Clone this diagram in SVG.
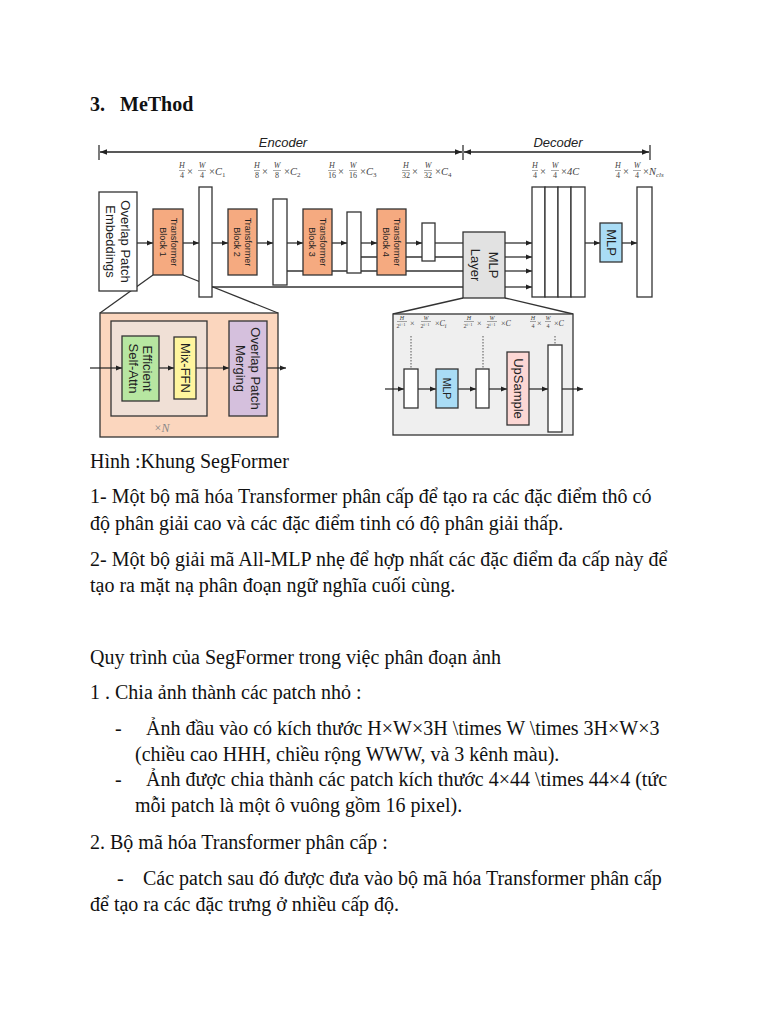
<svg xmlns="http://www.w3.org/2000/svg" width="768" height="1024" viewBox="0 0 768 1024">
<defs>
<marker id="ah" viewBox="0 0 10 10" refX="10" refY="5" markerWidth="6" markerHeight="6" markerUnits="userSpaceOnUse" orient="auto"><path d="M0,1 L10,5 L0,9 z" fill="#222"/></marker>
<marker id="ahs" viewBox="0 0 10 10" refX="10" refY="5" markerWidth="7" markerHeight="7" markerUnits="userSpaceOnUse" orient="auto-start-reverse"><path d="M0,1 L10,5 L0,9 z" fill="#222"/></marker>
</defs>
<style>
.bx{stroke:#333;stroke-width:1.3}
.w{fill:#fff}
.or{fill:#f5aa80}
.ln{stroke:#333;stroke-width:1.3;fill:none}
.la{stroke:#222;stroke-width:1.2;fill:none;marker-end:url(#ah)}
.dot{stroke:#555;stroke-width:1;stroke-dasharray:1.5,1.5}
.s{font-family:"Liberation Sans",Arial,sans-serif;fill:#222;text-anchor:middle}
.t9{font-size:9px}
.t13{font-size:13px}
.fr{font-family:"Liberation Serif",serif;font-style:italic;font-size:8px;fill:#444;text-anchor:middle}
.fn{font-family:"Liberation Serif",serif;font-size:8px;fill:#444;text-anchor:middle}
.fm{font-family:"Liberation Serif",serif;font-size:10.5px;fill:#444}
.fb{stroke:#555;stroke-width:0.5}
.fr2{font-family:"Liberation Serif",serif;font-style:italic;font-size:6px;fill:#444;text-anchor:middle}
.fn2{font-family:"Liberation Serif",serif;font-size:6px;fill:#444;text-anchor:middle}
.fm2{font-family:"Liberation Serif",serif;font-size:8px;fill:#444}
.b{font-family:"Liberation Serif","Times New Roman",serif;font-size:20px;fill:#111}
</style>
<rect width="768" height="1024" fill="#fff"/>

<text class="b" x="90" y="111" font-weight="bold">3.</text>
<text class="b" x="120" y="111" font-weight="bold">MeThod</text>

<!-- encoder / decoder span -->
<g id="span">
<line class="ln" x1="99" y1="145" x2="99" y2="160"/>
<line class="ln" x1="463" y1="145" x2="463" y2="160"/>
<line class="ln" x1="650" y1="145" x2="650" y2="160"/>
<line x1="100" y1="152" x2="462" y2="152" stroke="#222" stroke-width="1.5" marker-start="url(#ahs)" marker-end="url(#ahs)"/>
<line x1="464" y1="152" x2="649" y2="152" stroke="#222" stroke-width="1.5" marker-start="url(#ahs)" marker-end="url(#ahs)"/>
<text class="s" x="283" y="147" font-size="13" font-style="italic">Encoder</text>
<text class="s" x="558" y="147" font-size="13" font-style="italic">Decoder</text>
</g>

<!-- dimension labels -->
<g id="dims">
<text class="fr" x="182" y="168">H</text><line class="fb" x1="179" y1="170.5" x2="185" y2="170.5"/><text class="fn" x="182" y="178">4</text>
<text class="fm" x="187" y="175">×</text>
<text class="fr" x="202" y="168">W</text><line class="fb" x1="198" y1="170.5" x2="206" y2="170.5"/><text class="fn" x="202" y="178">4</text>
<text class="fm" x="209" y="175">×<tspan font-style="italic">C</tspan><tspan font-size="7" dy="2">1</tspan></text>

<text class="fr" x="257" y="168">H</text><line class="fb" x1="254" y1="170.5" x2="260" y2="170.5"/><text class="fn" x="257" y="178">8</text>
<text class="fm" x="262" y="175">×</text>
<text class="fr" x="277" y="168">W</text><line class="fb" x1="273" y1="170.5" x2="281" y2="170.5"/><text class="fn" x="277" y="178">8</text>
<text class="fm" x="284" y="175">×<tspan font-style="italic">C</tspan><tspan font-size="7" dy="2">2</tspan></text>

<text class="fr" x="332" y="168">H</text><line class="fb" x1="328" y1="170.5" x2="336" y2="170.5"/><text class="fn" x="332" y="178">16</text>
<text class="fm" x="338" y="175">×</text>
<text class="fr" x="353" y="168">W</text><line class="fb" x1="349" y1="170.5" x2="357" y2="170.5"/><text class="fn" x="353" y="178">16</text>
<text class="fm" x="360" y="175">×<tspan font-style="italic">C</tspan><tspan font-size="7" dy="2">3</tspan></text>

<text class="fr" x="406" y="168">H</text><line class="fb" x1="402" y1="170.5" x2="410" y2="170.5"/><text class="fn" x="406" y="178">32</text>
<text class="fm" x="412" y="175">×</text>
<text class="fr" x="428" y="168">W</text><line class="fb" x1="424" y1="170.5" x2="432" y2="170.5"/><text class="fn" x="428" y="178">32</text>
<text class="fm" x="435" y="175">×<tspan font-style="italic">C</tspan><tspan font-size="7" dy="2">4</tspan></text>

<text class="fr" x="535" y="168">H</text><line class="fb" x1="532" y1="170.5" x2="538" y2="170.5"/><text class="fn" x="535" y="178">4</text>
<text class="fm" x="540" y="175">×</text>
<text class="fr" x="555" y="168">W</text><line class="fb" x1="551" y1="170.5" x2="559" y2="170.5"/><text class="fn" x="555" y="178">4</text>
<text class="fm" x="561" y="175">×<tspan font-style="italic">4C</tspan></text>

<text class="fr" x="618" y="168">H</text><line class="fb" x1="615" y1="170.5" x2="621" y2="170.5"/><text class="fn" x="618" y="178">4</text>
<text class="fm" x="623" y="175">×</text>
<text class="fr" x="637" y="168">W</text><line class="fb" x1="633" y1="170.5" x2="641" y2="170.5"/><text class="fn" x="637" y="178">4</text>
<text class="fm" x="643" y="175">×<tspan font-style="italic">N</tspan><tspan font-size="7" font-style="italic" dy="2">cls</tspan></text>
</g>

<!-- connectors -->
<g id="connectors">
<line class="ln" x1="153" y1="275" x2="100" y2="313"/>
<line class="ln" x1="183" y1="275" x2="278" y2="313"/>
<line class="ln" x1="463" y1="298" x2="393" y2="314"/>
<line class="ln" x1="505" y1="298" x2="573" y2="314"/>
<line class="ln" x1="212" y1="287" x2="463" y2="287"/>
<line class="ln" x1="287" y1="271" x2="463" y2="271"/>
<line class="ln" x1="361" y1="257" x2="463" y2="257"/>
<line class="ln" x1="435" y1="243" x2="463" y2="243"/>
<line class="la" x1="137" y1="243" x2="153" y2="243"/>
<line class="la" x1="183" y1="243" x2="199" y2="243"/>
<line class="la" x1="212" y1="243" x2="228" y2="243"/>
<line class="la" x1="257" y1="243" x2="273" y2="243"/>
<line class="la" x1="287" y1="243" x2="303" y2="243"/>
<line class="la" x1="332" y1="243" x2="347" y2="243"/>
<line class="la" x1="361" y1="243" x2="377" y2="243"/>
<line class="la" x1="406" y1="243" x2="422" y2="243"/>
<line class="la" x1="505" y1="243" x2="532" y2="243"/>
<line class="la" x1="505" y1="257" x2="532" y2="257"/>
<line class="la" x1="505" y1="271" x2="532" y2="271"/>
<line class="la" x1="505" y1="287" x2="532" y2="287"/>
<line class="la" x1="585" y1="243" x2="600" y2="243"/>
<line class="la" x1="622" y1="243" x2="637" y2="243"/>
</g>

<!-- encoder nodes -->
<g id="patch-embed"><rect class="bx w" x="99" y="192" width="38" height="99"/>
<text class="s t13" transform="translate(118,241.5) rotate(90)"><tspan x="0" y="-3">Overlap Patch</tspan><tspan x="0" y="12">Embeddings</tspan></text></g>
<g id="tb1"><rect class="bx or" x="153" y="209" width="30" height="66"/>
<text class="s t9" transform="translate(168,242) rotate(90)"><tspan x="0" y="-2.5">Transformer</tspan><tspan x="0" y="8.5">Block 1</tspan></text></g>
<g id="f1"><rect class="bx w" x="199" y="187" width="13" height="110"/></g>
<g id="tb2"><rect class="bx or" x="228" y="209" width="29" height="66"/>
<text class="s t9" transform="translate(242.5,242) rotate(90)"><tspan x="0" y="-2.5">Transformer</tspan><tspan x="0" y="8.5">Block 2</tspan></text></g>
<g id="f2"><rect class="bx w" x="273" y="199" width="14" height="86"/></g>
<g id="tb3"><rect class="bx or" x="303" y="209" width="29" height="66"/>
<text class="s t9" transform="translate(317.5,242) rotate(90)"><tspan x="0" y="-2.5">Transformer</tspan><tspan x="0" y="8.5">Block 3</tspan></text></g>
<g id="f3"><rect class="bx w" x="347" y="212" width="14" height="61"/></g>
<g id="tb4"><rect class="bx or" x="377" y="209" width="29" height="66"/>
<text class="s t9" transform="translate(391.5,242) rotate(90)"><tspan x="0" y="-2.5">Transformer</tspan><tspan x="0" y="8.5">Block 4</tspan></text></g>
<g id="f4"><rect class="bx w" x="422" y="223" width="13" height="38"/></g>
<g id="mlp-layer"><rect class="bx" fill="#e2e2e2" x="463" y="232" width="42" height="66"/>
<text class="s t13" transform="translate(484,265) rotate(90)"><tspan x="0" y="-4.5">MLP</tspan><tspan x="0" y="13.5">Layer</tspan></text></g>

<!-- decoder nodes -->
<g id="concat">
<rect class="bx w" x="532" y="187" width="13" height="110"/>
<rect class="bx w" x="545" y="187" width="13" height="110"/>
<rect class="bx w" x="558" y="187" width="13" height="110"/>
<rect class="bx w" x="571" y="187" width="14" height="110"/>
</g>
<g id="mlp-dec"><rect class="bx" fill="#a9dcf5" x="600" y="223" width="22" height="39"/>
<text class="s t13" transform="translate(611,242.5) rotate(90)" y="4.5">MLP</text></g>
<g id="out"><rect class="bx w" x="637" y="187" width="15" height="110"/></g>

<!-- transformer block detail -->
<g id="tb-detail">
<rect class="bx" fill="#fbd6be" x="100" y="313" width="178" height="124"/>
<rect class="bx" fill="#f0e0d6" x="111" y="321" width="96" height="95"/>
<text x="162" y="432" font-family="Liberation Serif,serif" font-size="12" fill="#888" text-anchor="middle">×<tspan font-style="italic">N</tspan></text>
<line class="la" x1="90" y1="368" x2="122" y2="368"/>
<line class="la" x1="159" y1="368" x2="174" y2="368"/>
<line class="la" x1="196" y1="368" x2="229" y2="368"/>
<line class="la" x1="267" y1="368" x2="286" y2="368"/>
</g>
<g id="esa"><rect class="bx" fill="#b7e6a1" x="122" y="336" width="37" height="65"/>
<text class="s t13" transform="translate(140.5,368.5) rotate(90)"><tspan x="0" y="-2.5">Efficient</tspan><tspan x="0" y="11.5">Self-Attn</tspan></text></g>
<g id="mixffn"><rect class="bx" fill="#fff59e" x="174" y="337" width="22" height="62"/>
<text class="s t13" transform="translate(185,368) rotate(90)" y="4.5">Mix-FFN</text></g>
<g id="opm"><rect class="bx" fill="#d5c0dd" x="229" y="321" width="38" height="95"/>
<text class="s t13" transform="translate(248,368.5) rotate(90)"><tspan x="0" y="-3">Overlap Patch</tspan><tspan x="0" y="12">Merging</tspan></text></g>

<!-- mlp layer detail -->
<g id="mlp-detail">
<rect class="bx" fill="#efefef" x="393" y="314" width="180" height="121"/>
<text class="fr2" x="402" y="319.5">H</text><line class="fb" x1="397" y1="321.5" x2="407" y2="321.5"/><text class="fn2" x="401" y="328">2<tspan font-size="4.5" dy="-2">i+1</tspan></text>
<text class="fm2" x="410" y="326">×</text>
<text class="fr2" x="426" y="319.5">W</text><line class="fb" x1="421" y1="321.5" x2="431" y2="321.5"/><text class="fn2" x="425" y="328">2<tspan font-size="4.5" dy="-2">i+1</tspan></text>
<text class="fm2" x="435" y="326">×<tspan font-style="italic">C</tspan><tspan font-size="6" font-style="italic" dy="1.5">i</tspan></text>

<text class="fr2" x="469" y="319.5">H</text><line class="fb" x1="464" y1="321.5" x2="474" y2="321.5"/><text class="fn2" x="468" y="328">2<tspan font-size="4.5" dy="-2">i+1</tspan></text>
<text class="fm2" x="477" y="326">×</text>
<text class="fr2" x="492" y="319.5">W</text><line class="fb" x1="487" y1="321.5" x2="497" y2="321.5"/><text class="fn2" x="491" y="328">2<tspan font-size="4.5" dy="-2">i+1</tspan></text>
<text class="fm2" x="501" y="326">×<tspan font-style="italic">C</tspan></text>

<text class="fr2" x="533" y="319.5">H</text><line class="fb" x1="530" y1="321.5" x2="536" y2="321.5"/><text class="fn2" x="533" y="328">4</text>
<text class="fm2" x="537" y="326">×</text>
<text class="fr2" x="548" y="319.5">W</text><line class="fb" x1="545" y1="321.5" x2="551" y2="321.5"/><text class="fn2" x="548" y="328">4</text>
<text class="fm2" x="554" y="326">×<tspan font-style="italic">C</tspan></text>

<line class="dot" x1="411" y1="336" x2="411" y2="369"/>
<line class="dot" x1="483" y1="336" x2="483" y2="369"/>
<line class="dot" x1="555" y1="336" x2="555" y2="345"/>
<line class="la" x1="385" y1="389" x2="404" y2="389"/>
<line class="la" x1="418" y1="389" x2="436" y2="389"/>
<line class="la" x1="458" y1="389" x2="476" y2="389"/>
<line class="la" x1="489" y1="389" x2="507" y2="389"/>
<line class="la" x1="529" y1="389" x2="548" y2="389"/>
<line class="la" x1="562" y1="389" x2="583" y2="389"/>
</g>
<g id="m1"><rect class="bx w" x="404" y="369" width="14" height="39"/></g>
<g id="mlp-small"><rect class="bx" fill="#a9dcf5" x="436" y="369" width="22" height="39"/>
<text class="s" font-size="10.5" transform="translate(447,388.5) rotate(90)" y="3.7">MLP</text></g>
<g id="m2"><rect class="bx w" x="476" y="369" width="13" height="39"/></g>
<g id="upsample"><rect class="bx" fill="#fcd7d4" x="507" y="352" width="22" height="73"/>
<text class="s t13" transform="translate(518,388.5) rotate(90)" y="4.5">UpSample</text></g>
<g id="m3"><rect class="bx w" x="548" y="345" width="14" height="87"/></g>

<!-- body text -->
<g id="body">
<text class="b" x="90" y="468">Hình :Khung SegFormer</text>
<text class="b" x="90" y="503">1- Một bộ mã hóa Transformer phân cấp để tạo ra các đặc điểm thô có</text>
<text class="b" x="90" y="530">độ phân giải cao và các đặc điểm tinh có độ phân giải thấp.</text>
<text class="b" x="90" y="566">2- Một bộ giải mã All-MLP nhẹ để hợp nhất các đặc điểm đa cấp này để</text>
<text class="b" x="90" y="592">tạo ra mặt nạ phân đoạn ngữ nghĩa cuối cùng.</text>
<text class="b" x="90" y="664">Quy trình của SegFormer trong việc phân đoạn ảnh</text>
<text class="b" x="90" y="699">1 . Chia ảnh thành các patch nhỏ :</text>
<text class="b" x="115" y="735">-</text>
<text class="b" x="146" y="735">Ảnh đầu vào có kích thước H×W×3H \times W \times 3H×W×3</text>
<text class="b" x="135" y="761">(chiều cao HHH, chiều rộng WWW, và 3 kênh màu).</text>
<text class="b" x="115" y="786">-</text>
<text class="b" x="146" y="786">Ảnh được chia thành các patch kích thước 4×44 \times 44×4 (tức</text>
<text class="b" x="135" y="812">mỗi patch là một ô vuông gồm 16 pixel).</text>
<text class="b" x="90" y="849">2. Bộ mã hóa Transformer phân cấp :</text>
<text class="b" x="117" y="885">-</text>
<text class="b" x="143" y="885">Các patch sau đó được đưa vào bộ mã hóa Transformer phân cấp</text>
<text class="b" x="90" y="911">để tạo ra các đặc trưng ở nhiều cấp độ.</text>
</g>
</svg>
